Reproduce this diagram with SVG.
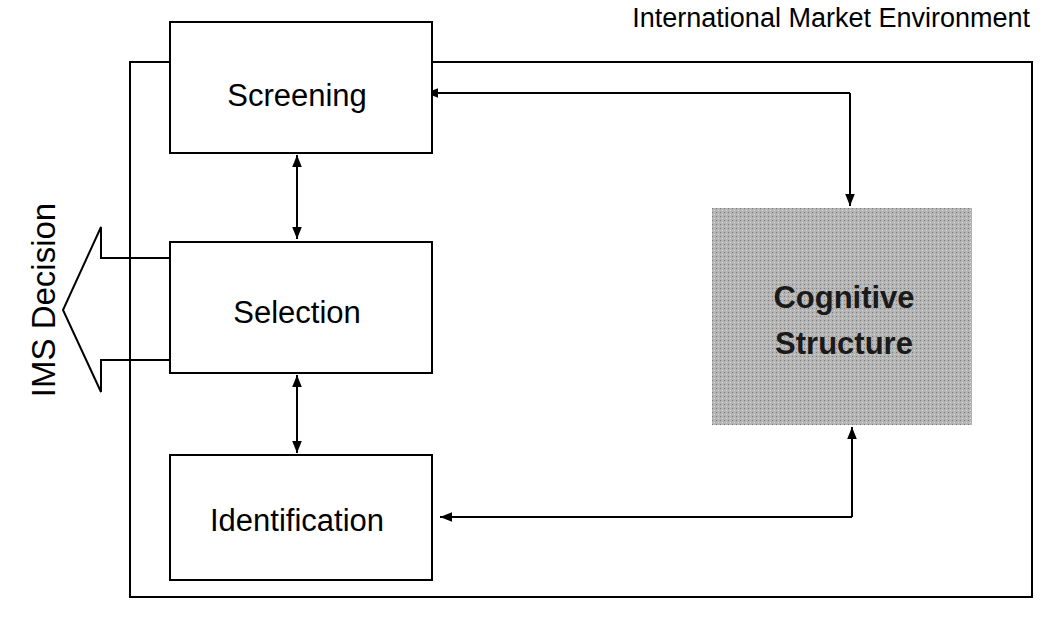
<svg xmlns="http://www.w3.org/2000/svg" width="1049" height="623" viewBox="0 0 1049 623">
<style>
.b{fill:#fff;stroke:#000;stroke-width:2}
.l{fill:none;stroke:#000;stroke-width:2}
.t{font-family:"Liberation Sans",Arial,sans-serif;font-size:31px;fill:#000;text-anchor:middle}
</style>
<defs>
<marker id="a2" viewBox="0 0 10 10" refX="10" refY="5" markerWidth="18" markerHeight="12" markerUnits="userSpaceOnUse" orient="auto-start-reverse"><path d="M0,1 L10,5 L0,9 Z" fill="#000"/></marker>
<pattern id="n" width="4" height="4" patternUnits="userSpaceOnUse"><rect width="4" height="4" fill="#b4b4b4"/><rect width="1" height="1" fill="#777"/><rect x="2" y="2" width="1" height="1" fill="#ddd"/></pattern>
</defs>
<rect width="1049" height="623" fill="#fff"/>
<g id="environment"><rect x="130" y="62" width="902" height="535" class="l"/>
<text x="1030" y="27" class="t" style="text-anchor:end;font-size:27px">International Market Environment</text></g>
<g id="connectors">
<path d="M850,93 H426" class="l" marker-end="url(#a2)"/>
<path d="M850,93 V206" class="l" marker-end="url(#a2)"/>
<path d="M852,427 V517" class="l" marker-start="url(#a2)"/>
<path d="M852,517 H440" class="l" marker-end="url(#a2)"/>
<path d="M297,155 V239" class="l" marker-start="url(#a2)" marker-end="url(#a2)"/>
<path d="M297,375 V453" class="l" marker-start="url(#a2)" marker-end="url(#a2)"/>
</g>
<g id="ims"><path d="M170,258 H101 V227 L63,310 L101,392 V360 H170" class="l"/>
<text transform="translate(55,300) rotate(-90)" class="t" style="font-size:33px">IMS Decision</text></g>
<g id="screening"><rect x="170" y="22" width="262" height="131" class="b"/><text x="297" y="106" class="t">Screening</text></g>
<g id="selection"><rect x="170" y="242" width="262" height="131" class="b"/><text x="297" y="323" class="t">Selection</text></g>
<g id="identification"><rect x="170" y="455" width="262" height="125" class="b"/><text x="297" y="531" class="t">Identification</text></g>
<g id="cognitive"><rect x="712" y="208" width="260" height="217" fill="url(#n)"/>
<text x="844" y="308" class="t" style="font-weight:bold;fill:#1a1a1a">Cognitive</text>
<text x="844" y="354" class="t" style="font-weight:bold;fill:#1a1a1a">Structure</text></g>
</svg>
